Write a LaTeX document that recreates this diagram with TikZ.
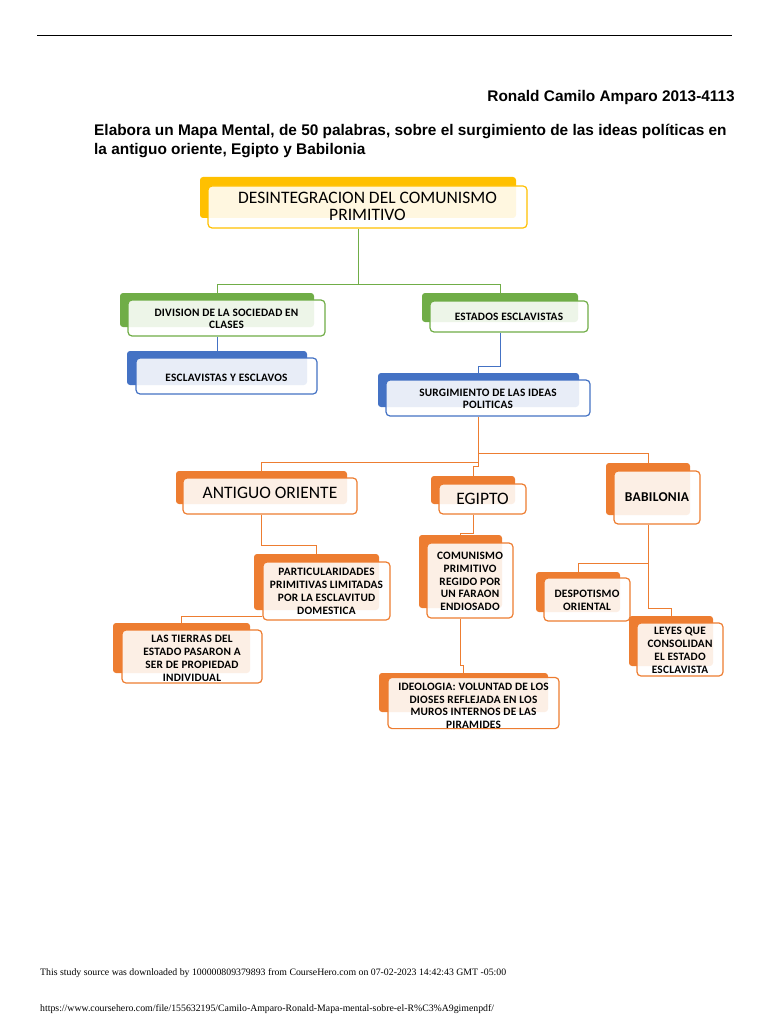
\documentclass[tikz,border=0pt]{standalone}
\usepackage{fontspec}
\setmainfont{Carlito}
\newfontfamily\arialf{Liberation Sans}
\newfontfamily\timesf{Liberation Serif}
\newfontfamily\boxf[LetterSpace=2]{Carlito}
\definecolor{yellowc}{HTML}{FFC000}
\definecolor{greenc}{HTML}{70AD47}
\definecolor{bluec}{HTML}{4472C4}
\definecolor{orangec}{HTML}{ED7D31}
\newcommand\lw[2]{\raisebox{-#1}[\height][\depth]{\begin{tabular}{@{}c@{}}#2\end{tabular}}}
\tikzset{
  back/.style={fill=#1, rounded corners=3pt, inner sep=0pt, draw=none},
  front/.style={draw=#1, fill=white, fill opacity=0.88, text opacity=1, rounded corners=4pt,
    line width=1.2pt, inner sep=0pt, align=center},
  conn/.style={draw=#1, line width=1pt},
  small/.style={font=\boxf\fontsize{11.3}{12.8}\selectfont\bfseries},
  big/.style={font=\fontsize{17.5}{17}\selectfont},
}
\begin{document}
\begin{tikzpicture}[x=1pt,y=-1pt]
\useasboundingbox (0,0) rectangle (768,1024);
\draw[line width=0.8pt] (37,35) -- (732,35);

% header
\node[anchor=base east, inner sep=0pt, font=\arialf\bfseries\fontsize{15.4}{17}\selectfont] (author) at (735,102) {Ronald Camilo Amparo 2013-4113};
\node[anchor=base west, inner sep=0pt, font=\arialf\bfseries\fontsize{15.4}{17}\selectfont] (title1) at (94,136) {Elabora un Mapa Mental, de 50 palabras, sobre el surgimiento de las ideas políticas en};
\node[anchor=base west, inner sep=0pt, font=\arialf\bfseries\fontsize{15.4}{17}\selectfont] (title2) at (94,155) {la antiguo oriente, Egipto y Babilonia};

% title box
\node[back=yellowc, minimum width=316pt, minimum height=41pt] (tb) at (358,197.5) {};
\node[front=yellowc, big, minimum width=319pt, minimum height=42pt] (t) at (367.5,207) {\lw{1.5pt}{DESINTEGRACION DEL COMUNISMO\\PRIMITIVO}};

% green
\node[back=greenc, minimum width=194pt, minimum height=34pt] (dvb) at (217,310) {};
\node[front=greenc, small, minimum width=197pt, minimum height=36pt] (dv) at (226.5,318) {\lw{2pt}{DIVISION DE LA SOCIEDAD EN\\CLASES}};
\node[back=greenc, minimum width=156pt, minimum height=29pt] (eeb) at (500,307.5) {};
\node[front=greenc, small, minimum width=158pt, minimum height=31pt] (ee) at (509,316.5) {\lw{1pt}{ESTADOS ESCLAVISTAS}};

% blue
\node[back=bluec, minimum width=180pt, minimum height=34pt] (esb) at (217,368) {};
\node[front=bluec, small, minimum width=181pt, minimum height=36pt] (es) at (226.5,376) {\lw{3pt}{ESCLAVISTAS Y ESCLAVOS}};
\node[back=bluec, minimum width=201pt, minimum height=34pt] (sgb) at (478.5,390) {};
\node[front=bluec, small, minimum width=204pt, minimum height=36pt] (sg) at (488,398) {\lw{2pt}{SURGIMIENTO DE LAS IDEAS\\POLITICAS}};

% orange level 1
\node[back=orangec, minimum width=171pt, minimum height=33pt] (aob) at (261.5,487.5) {};
\node[front=orangec, big, minimum width=174pt, minimum height=36pt] (ao) at (270,496) {\lw{-1pt}{ANTIGUO ORIENTE}};
\node[back=orangec, minimum width=84pt, minimum height=28pt] (egb) at (473,490) {};
\node[front=orangec, big, minimum width=87pt, minimum height=30pt] (eg) at (482.5,499) {EGIPTO};
\node[back=orangec, minimum width=84pt, minimum height=52pt] (bbb) at (648,489) {};
\node[front=orangec, minimum width=86pt, minimum height=53pt, font=\boxf\fontsize{13.5}{14}\selectfont\bfseries] (bb) at (657,497.5) {BABILONIA};

% orange level 2
\node[back=orangec, minimum width=125pt, minimum height=56pt] (pab) at (316.5,582) {};
\node[front=orangec, small, minimum width=127pt, minimum height=58pt] (pa) at (326.5,591) {\lw{1.5pt}{PARTICULARIDADES\\PRIMITIVAS LIMITADAS\\POR LA ESCLAVITUD\\DOMESTICA}};
\node[back=orangec, minimum width=137pt, minimum height=50pt] (ltb) at (181.5,648) {};
\node[front=orangec, small, minimum width=140pt, minimum height=53pt] (lt) at (192,656.5) {\lw{3pt}{LAS TIERRAS DEL\\ESTADO PASARON A\\SER DE PROPIEDAD\\INDIVIDUAL}};
\node[back=orangec, minimum width=83pt, minimum height=73pt] (cmb) at (460.5,571.5) {};
\node[front=orangec, small, minimum width=86pt, minimum height=75pt] (cm) at (470,580.5) {\lw{2pt}{COMUNISMO\\PRIMITIVO\\REGIDO POR\\UN FARAON\\ENDIOSADO}};
\node[back=orangec, minimum width=169pt, minimum height=39pt] (idb) at (463.5,692.5) {};
\node[front=orangec, small, minimum width=171pt, minimum height=48pt] (id) at (473.5,703) {\lw{4pt}{IDEOLOGIA: VOLUNTAD DE LOS\\DIOSES REFLEJADA EN LOS\\MUROS INTERNOS DE LAS\\PIRAMIDES}};
\node[back=orangec, minimum width=84pt, minimum height=40pt] (dpb) at (578,592) {};
\node[front=orangec, small, minimum width=86pt, minimum height=43pt] (dp) at (587,599.5) {\lw{2pt}{DESPOTISMO\\ORIENTAL}};
\node[back=orangec, minimum width=84pt, minimum height=50pt] (lyb) at (671,641) {};
\node[front=orangec, small, minimum width=86pt, minimum height=53pt] (ly) at (680,649.5) {\lw{2pt}{LEYES QUE\\CONSOLIDAN\\EL ESTADO\\ESCLAVISTA}};

% connectors
\coordinate (gj) at (358,284);
\draw[conn=greenc] (tb.south |- t.south) -- (gj) -| (dvb.north);
\draw[conn=greenc] (gj) -| (eeb.north);
\draw[conn=bluec] (dvb.south |- dv.south) -- (esb.north);
\draw[conn=bluec] (eeb.south |- ee.south) -- ++(0,34) -| (sgb.north);
\coordinate (oj) at (478.5,462);
\draw[conn=orangec] (sgb.south |- sg.south) -- (oj) -| (aob.north);
\draw[conn=orangec] (sgb.south |- bbb.north) ++(0,-9) -| (bbb.north);
\draw[conn=orangec] (oj) -- ++(0,4) -| (egb.north);
\draw[conn=orangec] (aob.south |- ao.south) -- ++(0,31) -| (pab.north);
\draw[conn=orangec] (pa.south west) ++(0,-4) -| (ltb.north);
\draw[conn=orangec] (egb.south |- eg.south) -- ++(0,19) -| (cmb.north);
\draw[conn=orangec] (cmb.south |- cm.south) -- ++(0,47) -| (idb.north);
\draw[conn=orangec] (bbb.south |- bb.south) -- ++(0,39) coordinate (bj) -| (dpb.north);
\draw[conn=orangec] (bj) -- ++(0,45) -| (lyb.north);

% footer
\node[anchor=base west, inner sep=0pt, font=\timesf\fontsize{9.8}{12}\selectfont] (foot1) at (40,975) {This study source was downloaded by 100000809379893 from CourseHero.com on 07-02-2023 14:42:43 GMT -05:00};
\node[anchor=base west, inner sep=0pt, font=\timesf\fontsize{9.8}{12}\selectfont] (foot2) at (40,1011) {https://www.coursehero.com/file/155632195/Camilo-Amparo-Ronald-Mapa-mental-sobre-el-R\%C3\%A9gimenpdf/};
\end{tikzpicture}
\end{document}
